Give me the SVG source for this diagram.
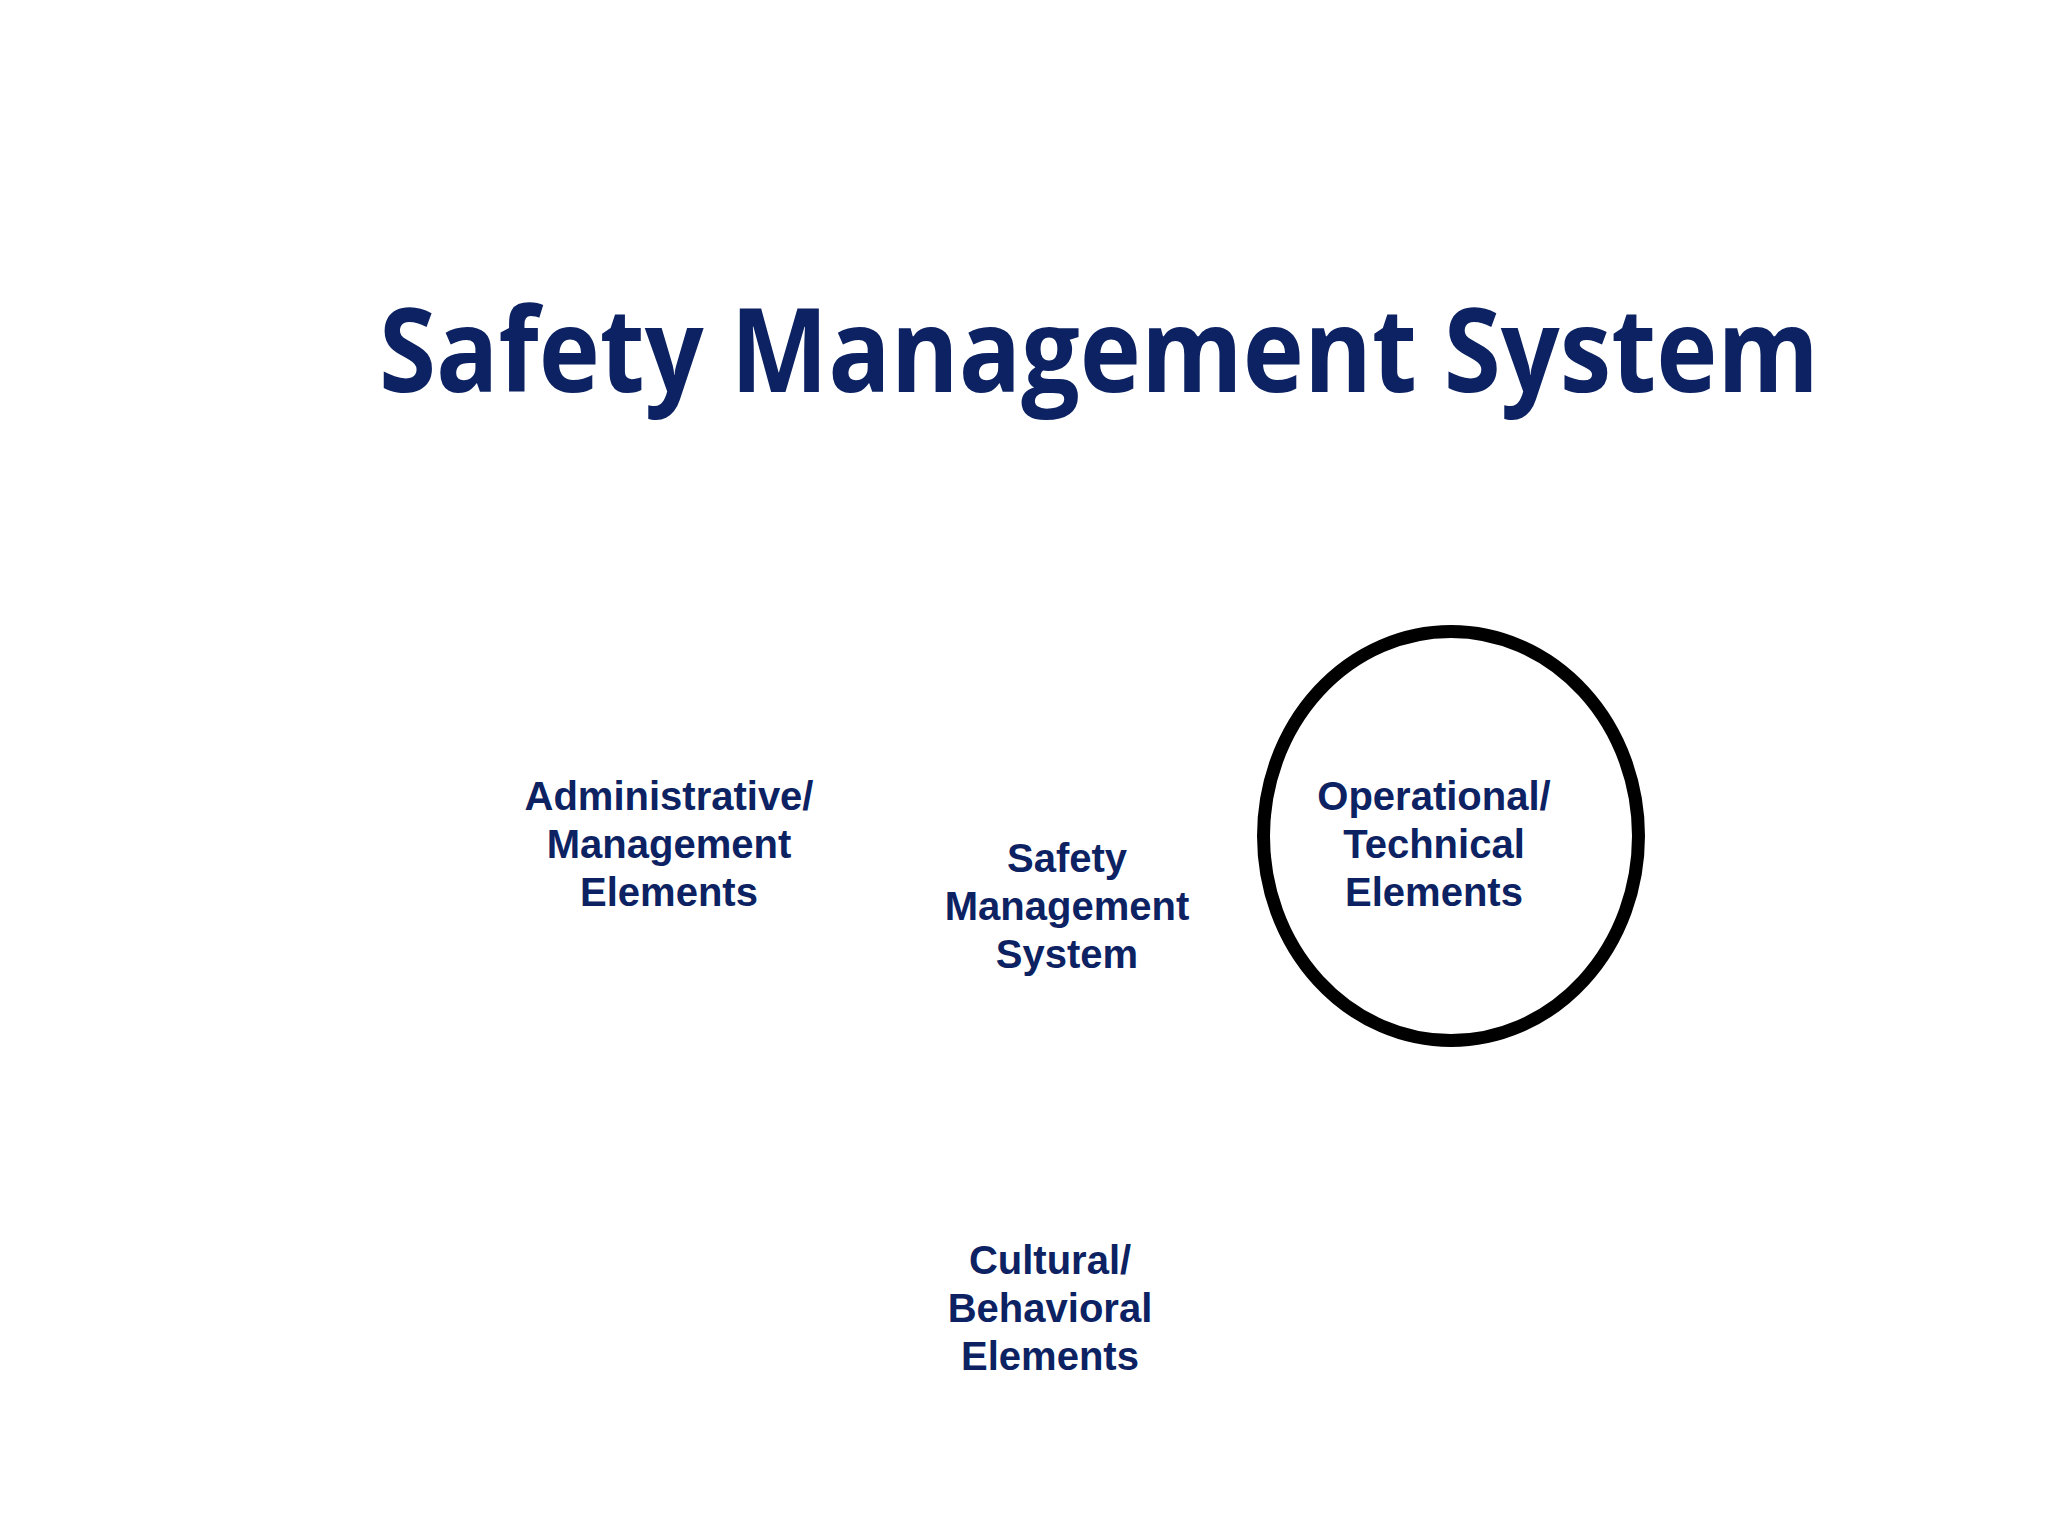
<svg xmlns="http://www.w3.org/2000/svg" width="2048" height="1536" viewBox="0 0 2048 1536">
<style>
.lbl{font-family:"Liberation Sans",Arial,sans-serif;font-weight:bold;font-size:40px;fill:#0c2262;text-anchor:middle}
.title{font-family:"Open Sans","Noto Sans",sans-serif;font-weight:bold;font-size:116px;fill:#0c2262}
</style>
<rect width="2048" height="1536" fill="#ffffff"/>
<text class="title" x="379" y="392" textLength="1440" lengthAdjust="spacingAndGlyphs">Safety Management System</text>
<g id="connectors"></g>
<g id="node-admin">
<text class="lbl" x="669" y="810">Administrative/</text>
<text class="lbl" x="669" y="858">Management</text>
<text class="lbl" x="669" y="906">Elements</text>
</g>
<g id="node-sms">
<text class="lbl" x="1067" y="872">Safety</text>
<text class="lbl" x="1067" y="920">Management</text>
<text class="lbl" x="1067" y="968">System</text>
</g>
<g id="node-operational">
<ellipse cx="1451" cy="836" rx="187.5" ry="204.5" fill="none" stroke="#000000" stroke-width="13"/>
<text class="lbl" x="1434" y="810">Operational/</text>
<text class="lbl" x="1434" y="858">Technical</text>
<text class="lbl" x="1434" y="906">Elements</text>
</g>
<g id="node-cultural">
<text class="lbl" x="1050" y="1274">Cultural/</text>
<text class="lbl" x="1050" y="1322">Behavioral</text>
<text class="lbl" x="1050" y="1370">Elements</text>
</g>
</svg>
